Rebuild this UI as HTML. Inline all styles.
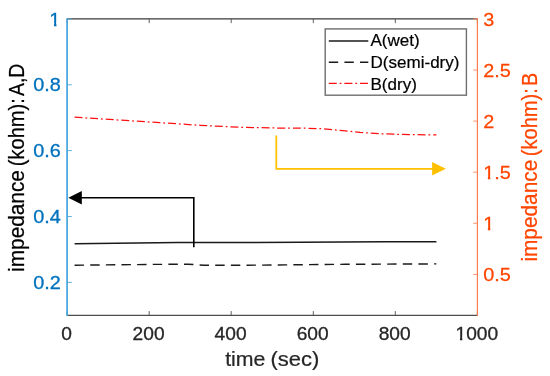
<!DOCTYPE html>
<html><head><meta charset="utf-8">
<style>html,body{margin:0;padding:0;background:#fff;overflow:hidden}svg{display:block}text{font-family:"Liberation Sans",Arial,Helvetica,sans-serif}</style></head><body>
<svg width="550" height="376" viewBox="0 0 550 376">
<rect width="550" height="376" fill="#fff"/>
<defs><clipPath id="c1k"><path d="M-40 -25H60V8H-10.57V-2.52H-14.38V8H-16.66V-2.52H-40Z"/></clipPath><clipPath id="c1l"><path d="M-40 -25H60V8H0.00V-2.47H-3.68V8H-5.91V-2.47H-40Z"/></clipPath><clipPath id="c1r"><path d="M-40 -25H60V8H10.23V-2.47H6.55V8H4.33V-2.47H-40Z"/></clipPath></defs>
<g stroke="#3a3a3a" fill="none">
<line x1="67.1" y1="18.9" x2="477.4" y2="18.9" stroke-width="1.25"/>
<line x1="67.1" y1="315.3" x2="477.4" y2="315.3" stroke-width="1.35" stroke="#4d4d4d"/>
<path d="M67.1 315.3v-4.2M67.1 18.9v4.2M149.2 315.3v-4.2M149.2 18.9v4.2M231.2 315.3v-4.2M231.2 18.9v4.2M313.3 315.3v-4.2M313.3 18.9v4.2M395.3 315.3v-4.2M395.3 18.9v4.2M477.4 315.3v-4.2M477.4 18.9v4.2" stroke-width="0.9" stroke="#505050"/>
</g>
<g stroke="#45A5DF" fill="none"><line x1="67.1" y1="18.3" x2="67.1" y2="316.0" stroke-width="1.7"/>
<path d="M67.1 18.9h4.7M67.1 84.8h4.7M67.1 150.6h4.7M67.1 216.5h4.7M67.1 282.4h4.7" stroke-width="0.9" stroke="#4FA9DF"/></g>
<g stroke="#FF7A48" fill="none"><line x1="477.4" y1="18.3" x2="477.4" y2="316.0" stroke-width="1.15"/>
<path d="M477.4 18.9h-4.3M477.4 70.0h-4.3M477.4 121.1h-4.3M477.4 172.2h-4.3M477.4 223.3h-4.3M477.4 274.4h-4.3" stroke-width="0.9" stroke="#FF8A5C"/></g>
<g font-size="19" fill="#262626" text-anchor="middle" stroke="#262626" stroke-width="0.3">
<text transform="translate(66.5,339.5) scale(1.01,1)">0</text>
<text transform="translate(148.6,339.5) scale(1.01,1)">200</text>
<text transform="translate(230.6,339.5) scale(1.01,1)">400</text>
<text transform="translate(312.7,339.5) scale(1.01,1)">600</text>
<text transform="translate(394.7,339.5) scale(1.01,1)">800</text>
<text transform="translate(476.8,339.5) scale(1.01,1)" clip-path="url(#c1k)">1000</text>
</g>
<g font-size="20.5" fill="#262626" stroke="#262626" stroke-width="0.22">
<text transform="translate(225.2,366.1) scale(1.04,1)">time <tspan x="43.46" textLength="47.0" lengthAdjust="spacingAndGlyphs">(sec)</tspan></text>
</g>
<g font-size="18.4" fill="#0072BD" text-anchor="end" stroke="#0072BD" stroke-width="0.3">
<text transform="translate(60.4,25.5) scale(1.08,1)" clip-path="url(#c1l)">1</text>
<text transform="translate(60.8,91.4) scale(1.08,1)">0.8</text>
<text transform="translate(60.8,157.2) scale(1.08,1)">0.6</text>
<text transform="translate(60.8,223.1) scale(1.08,1)">0.4</text>
<text transform="translate(60.8,289.0) scale(1.08,1)">0.2</text>
</g>
<g font-size="21.6" fill="#000" stroke="#000" stroke-width="0.25">
<text transform="translate(24.1,0) rotate(-90)"><tspan x="-271.9" textLength="101.8" lengthAdjust="spacingAndGlyphs">impedance</tspan> <tspan x="-166.2" textLength="68.0" lengthAdjust="spacingAndGlyphs">(kohm):</tspan> <tspan x="-96.0" textLength="32.3" lengthAdjust="spacingAndGlyphs">A,D</tspan></text>
</g>
<g font-size="18.4" fill="#FF4500" text-anchor="start" stroke="#FF4500" stroke-width="0.25">
<text transform="translate(483.2,25.5) scale(1.08,1)">3</text>
<text transform="translate(483.2,76.6) scale(1.08,1)">2.5</text>
<text transform="translate(483.2,127.7) scale(1.08,1)">2</text>
<text transform="translate(483.2,178.8) scale(1.08,1)" clip-path="url(#c1r)">1.5</text>
<text transform="translate(483.2,229.9) scale(1.08,1)" clip-path="url(#c1r)">1</text>
<text transform="translate(483.2,281.0) scale(1.08,1)">0.5</text>
</g>
<g font-size="21.6" fill="#FF4500" stroke="#FF4500" stroke-width="0.25">
<text transform="translate(536.8,0) rotate(-90)"><tspan x="-261.6" textLength="101.8" lengthAdjust="spacingAndGlyphs">impedance</tspan> <tspan x="-156.2" textLength="68.0" lengthAdjust="spacingAndGlyphs">(kohm):</tspan> <tspan x="-86.0" textLength="13.3" lengthAdjust="spacingAndGlyphs">B</tspan></text>
</g>
<path d="M74.6 243.8L178 242.6L300 242.3L385 241.8L436.4 241.7" stroke="#1a1a1a" stroke-width="1.5" fill="none"/>
<path d="M74.6 265.2L175 264.2L188 264.2L204 265.3L240 265.3L345 264.3L436.4 263.9" stroke="#1a1a1a" stroke-width="1.4" fill="none" stroke-dasharray="9.43 6.2"/>
<path d="M74.5 117.2L160 122.7L200 125.3L240 127.3L280 128.1L300 128.1L320 128.6L340 130.4L360 132.4L380 133.8L400 134.4L436.4 134.9" stroke="#FF1010" stroke-width="1.25" fill="none" stroke-dasharray="8 2.9 1.8 2.92"/>
<path d="M193.8 247.3V197.8H81" stroke="#000" stroke-width="1.6" fill="none"/>
<path d="M68.3 197.8L81.8 191.1V204.5Z" fill="#000"/>
<path d="M276.3 135.4V168.8H433" stroke="#FFC000" stroke-width="1.8" fill="none"/>
<path d="M445.9 168.8L432.1 162V175.6Z" fill="#FFC000"/>
<rect x="325.2" y="28.9" width="141.2" height="66.3" fill="#fff" stroke="#6e6e6e" stroke-width="1.4"/>
<line x1="328.8" y1="41" x2="368.3" y2="41" stroke="#1a1a1a" stroke-width="1.3"/>
<line x1="328.8" y1="62.2" x2="368.3" y2="62.2" stroke="#1a1a1a" stroke-width="1.4" stroke-dasharray="9.4 6.2"/>
<line x1="328.8" y1="83.3" x2="368.3" y2="83.3" stroke="#FF1010" stroke-width="1.25" stroke-dasharray="8 2.9 1.8 2.9"/>
<g font-size="16.4" fill="#000" stroke="#000" stroke-width="0.2">
<text transform="translate(370.5,46.2) scale(1.04,1)">A(wet)</text>
<text transform="translate(370.5,68.1) scale(1.04,1)">D(semi-dry)</text>
<text transform="translate(370.5,89.5) scale(1.04,1)">B(dry)</text>
</g>
</svg></body></html>
